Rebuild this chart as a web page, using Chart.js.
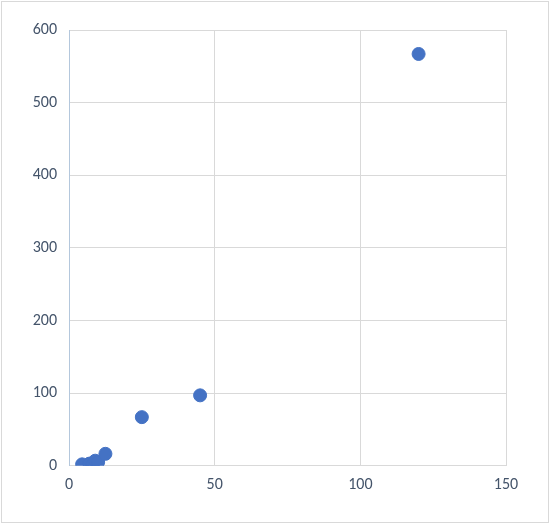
<!DOCTYPE html>
<html><head><script src="https://cdn.jsdelivr.net/npm/chart.js@4"></script>
<style>body{margin:0;background:#fff}#w{position:absolute;left:1px;top:1px;width:546px;height:520px;border:1px solid #d9d9d9}</style></head>
<body><div id="w"><canvas id="c" width="546" height="520"></canvas></div>
<script>
const xValues = [4.5, 7, 8, 9, 10, 12.5, 25, 45, 120];
const yValues = [2, 3, 0.5, 7, 5, 16.5, 67, 97, 567];
const pts = xValues.map((x, i) => ({x: x, y: yValues[i]}));
const tickFont = {family: 'Calibri, Carlito, Liberation Sans', size: 16};
new Chart(document.getElementById('c'), {
  type: 'scatter',
  data: {datasets: [{data: pts, backgroundColor: '#4472C4', borderColor: '#4472C4', pointRadius: 6.5}]},
  options: {
    responsive: false, animation: false,
    layout: {padding: {top: 28, right: 42, bottom: 17, left: 0}},
    plugins: {legend: {display: false}, tooltip: {enabled: false}},
    scales: {
      x: {min: 0, max: 150, ticks: {stepSize: 50, padding: 10, color: '#44546a', font: tickFont},
          grid: {color: '#d9d9d9', drawTicks: false}, border: {color: '#d9d9d9'}},
      y: {min: 0, max: 600, ticks: {stepSize: 100, padding: 12, color: '#44546a', font: tickFont},
          afterFit: s => { s.width = 67; },
          grid: {color: '#d9d9d9', drawTicks: false}, border: {color: '#b4c7dc'}}
    }
  }
});
</script></body></html>
